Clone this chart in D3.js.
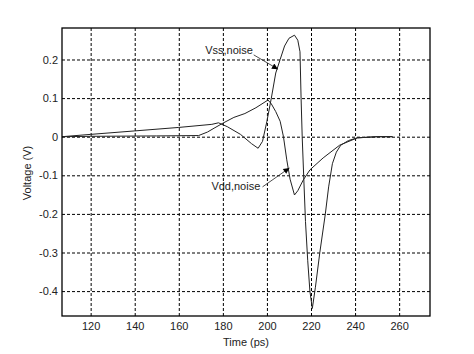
<!DOCTYPE html>
<html>
<head>
<meta charset="utf-8">
<script src="https://cdn.jsdelivr.net/npm/d3@7"></script>
<style>
body{margin:0;background:#fff;}
text{font-family:"Liberation Sans",Arial,sans-serif;fill:#222;}
.tick text{font-size:11px;}
.label{font-size:11px;}
</style>
</head>
<body>
<svg id="chart"></svg>
<script>
// Vss,noise trace (time in ps, voltage in V)
var vssTime=[107,120,140,160,175,178,182,188,193,196,198,200,202,204,206,208,210,212.5,214,215,215.5,216,216.8,217.5,218.5,219.5,220.6,222,224,226.5,228,229.7,231.5,233.5,237,241,250,257]
var vssVolt=[0,0.006,0.015,0.024,0.032,0.036,0.026,0.006,-0.018,-0.03,-0.012,0.04,0.1,0.165,0.2,0.235,0.255,0.263,0.25,0.22,0.1,0,-0.12,-0.22,-0.32,-0.4,-0.445,-0.39,-0.3,-0.2,-0.13,-0.07,-0.04,-0.022,-0.01,-0.003,0,0]
// Vdd,noise trace
var vddTime=[107,120,150,169,173,176,180,185,190,195,200.5,202,204,206,207.5,209,210.5,212.5,214,216.5,219.5,225.5,233,241,250,257]
var vddVolt=[0,0.001,0.002,0.003,0.012,0.022,0.035,0.05,0.06,0.075,0.095,0.085,0.065,0.04,0,-0.06,-0.11,-0.151,-0.14,-0.112,-0.086,-0.055,-0.022,-0.003,0,0]
var xTicks=[120,140,160,180,200,220,240,260]
var yTicks=[-0.4,-0.3,-0.2,-0.1,0,0.1,0.2]
var yTickLabels=["-0.4","-0.3","-0.2","-0.1","0","0.1","0.2"]
var xDomain=[107,274]
var yDomain=[-0.4645,0.2816]

var screen={width:474,height:354}
var margins={left:62,right:44,top:28,bottom:38}
var graph={
    width:screen.width-margins.left-margins.right,
    height:screen.height-margins.top-margins.bottom}

var svg=d3.select("#chart")
    .attr("width",screen.width)
    .attr("height",screen.height)

var xScale=d3.scaleLinear().domain(xDomain).range([0,graph.width])
var yScale=d3.scaleLinear().domain(yDomain).range([graph.height,0])

var target=svg.append("g")
    .attr("transform","translate("+margins.left+","+margins.top+")")

//grid
target.append("g")
    .attr("transform","translate(0,"+graph.height+")")
    .call(d3.axisBottom(xScale).tickValues(xTicks).tickSize(-graph.height).tickFormat(""))
    .call(function(g){g.select(".domain").remove()})
    .selectAll("line").attr("stroke","#000").attr("stroke-dasharray","3,2")
target.append("g")
    .call(d3.axisLeft(yScale).tickValues(yTicks).tickSize(-graph.width).tickFormat(""))
    .call(function(g){g.select(".domain").remove()})
    .selectAll("line").attr("stroke","#000").attr("stroke-dasharray","3,2")

//tick labels
target.append("g")
    .attr("transform","translate(0,"+graph.height+")")
    .call(d3.axisBottom(xScale).tickValues(xTicks).tickSize(0).tickPadding(6))
    .call(function(g){g.select(".domain").remove()})
target.append("g")
    .call(d3.axisLeft(yScale).tickValues(yTicks).tickSize(0).tickPadding(4)
        .tickFormat(function(d,i){return yTickLabels[i]}))
    .call(function(g){g.select(".domain").remove()})

//lines
var lineGen=function(times){
    return d3.line()
        .x(function(v,i){return xScale(times[i])})
        .y(function(v){return yScale(v)})
}
target.append("path")
    .datum(vddVolt)
    .attr("d",lineGen(vddTime))
    .attr("fill","none")
    .attr("stroke","#222")
    .attr("stroke-width",1)
target.append("path")
    .datum(vssVolt)
    .attr("d",lineGen(vssTime))
    .attr("fill","none")
    .attr("stroke","#222")
    .attr("stroke-width",1)

//box
target.append("rect")
    .attr("width",graph.width)
    .attr("height",graph.height)
    .attr("fill","none")
    .attr("stroke","#000")
    .attr("stroke-width",1.3)

//annotations
svg.append("defs").append("marker")
    .attr("id","arrow")
    .attr("viewBox","0 0 10 10")
    .attr("refX",10).attr("refY",5)
    .attr("markerWidth",8).attr("markerHeight",6)
    .attr("markerUnits","userSpaceOnUse")
    .attr("orient","auto")
    .append("path").attr("d","M0,0L10,5L0,10Z").attr("fill","#000")

var notes=[
    {text:"Vss,noise",tx:193.6,tv:0.214,x1:194,v1:0.212,x2:205,v2:0.175},
    {text:"Vdd,noise",tx:197,tv:-0.138,x1:198,v1:-0.13,x2:210.2,v2:-0.081}]
notes.forEach(function(n){
    target.append("text")
        .text(n.text)
        .classed("label",true)
        .attr("text-anchor","end")
        .attr("x",xScale(n.tx))
        .attr("y",yScale(n.tv))
    target.append("line")
        .attr("x1",xScale(n.x1)).attr("y1",yScale(n.v1))
        .attr("x2",xScale(n.x2)).attr("y2",yScale(n.v2))
        .attr("stroke","#222")
        .attr("stroke-width",0.8)
        .attr("marker-end","url(#arrow)")
})

//axis labels
svg.append("text")
    .text("Time (ps)")
    .classed("label",true)
    .attr("text-anchor","middle")
    .attr("x",246)
    .attr("y",346)
svg.append("g")
    .attr("transform","translate(31,173)")
    .append("text")
    .text("Voltage (V)")
    .classed("label",true)
    .attr("text-anchor","middle")
    .attr("transform","rotate(270)")
</script>
</body>
</html>
